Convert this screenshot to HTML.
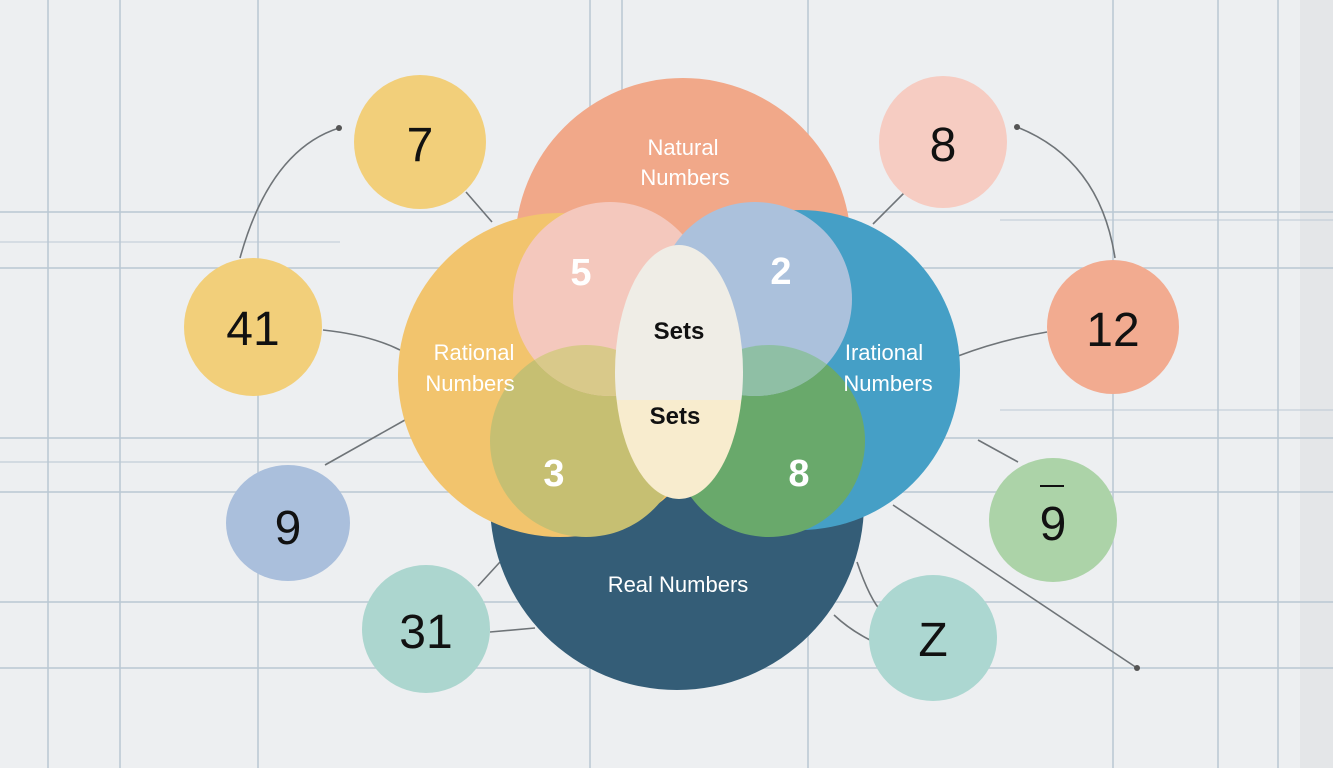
<!DOCTYPE html>
<html><head><meta charset="utf-8"><style>
html,body{margin:0;padding:0;background:#eef0f2;}
svg{display:block;}
text{font-family:"Liberation Sans",sans-serif;}
</style></head><body>
<svg width="1333" height="768" viewBox="0 0 1333 768" xmlns="http://www.w3.org/2000/svg">
<defs>
<clipPath id="co"><circle cx="586" cy="441" r="96"/></clipPath>
<clipPath id="cg"><circle cx="769" cy="441" r="96"/></clipPath>
<clipPath id="ce"><ellipse cx="679" cy="372" rx="64" ry="127"/></clipPath>
</defs>
<rect width="1333" height="768" fill="#edeff1"/>
<rect x="1300" y="0" width="33" height="768" fill="#e4e6e8"/>
<g stroke="#b9c7d3" stroke-width="1.5" fill="none">
<line x1="48" y1="0" x2="48" y2="768"/><line x1="120" y1="0" x2="120" y2="768"/>
<line x1="258" y1="0" x2="258" y2="768"/><line x1="590" y1="0" x2="590" y2="768"/>
<line x1="622" y1="0" x2="622" y2="90"/><line x1="808" y1="0" x2="808" y2="768"/>
<line x1="1113" y1="0" x2="1113" y2="768"/><line x1="1218" y1="0" x2="1218" y2="768"/><line x1="1278" y1="0" x2="1278" y2="768"/>
<line x1="0" y1="212" x2="1333" y2="212"/><line x1="0" y1="242" x2="340" y2="242" opacity=".6"/>
<line x1="0" y1="268" x2="1333" y2="268"/><line x1="0" y1="438" x2="1333" y2="438"/>
<line x1="0" y1="462" x2="500" y2="462" opacity=".7"/><line x1="0" y1="492" x2="1333" y2="492"/>
<line x1="0" y1="602" x2="1333" y2="602"/><line x1="0" y1="668" x2="1333" y2="668"/>
<line x1="1000" y1="220" x2="1333" y2="220" opacity=".6"/><line x1="1000" y1="410" x2="1333" y2="410" opacity=".6"/>
</g>
<g stroke="#6f7478" stroke-width="1.6" fill="none">
<path d="M339 128 Q270 150 240 258"/>
<path d="M1017 127 Q1100 160 1115 258"/>
<path d="M466 192 L492 222"/>
<path d="M323 330 Q370 335 400 350"/>
<path d="M325 465 L405 420"/>
<path d="M873 224 L905 192"/>
<path d="M958 356 Q1000 340 1047 332"/>
<path d="M978 440 L1018 462"/>
<path d="M893 505 L1137 668"/>
<path d="M857 562 Q870 600 882 612"/>
<path d="M834 615 Q850 630 870 640"/>
<path d="M478 586 L500 562"/><path d="M490 632 L535 628"/>
</g>
<circle cx="339" cy="128" r="3" fill="#555"/>
<circle cx="1017" cy="127" r="3" fill="#555"/>
<circle cx="1137" cy="668" r="3" fill="#555"/>

<ellipse cx="420" cy="142" rx="66" ry="67" fill="#f2cf7a"/>
<ellipse cx="253" cy="327" rx="69" ry="69" fill="#f2cf7a"/>
<ellipse cx="288" cy="523" rx="62" ry="58" fill="#aabfdc"/>
<ellipse cx="426" cy="629" rx="64" ry="64" fill="#acd6cf"/>
<ellipse cx="943" cy="142" rx="64" ry="66" fill="#f6ccc2"/>
<ellipse cx="1113" cy="327" rx="66" ry="67" fill="#f2ab90"/>
<ellipse cx="1053" cy="520" rx="64" ry="62" fill="#acd3a8"/>
<ellipse cx="933" cy="638" rx="64" ry="63" fill="#acd7d1"/>

<circle cx="677" cy="503" r="187" fill="#345d77"/>
<circle cx="683" cy="246" r="168" fill="#f1a889"/>
<circle cx="560" cy="375" r="162" fill="#f2c46d"/>
<circle cx="800" cy="370" r="160" fill="#459fc6"/>
<circle cx="586" cy="441" r="96" fill="#c6bf72"/>
<circle cx="769" cy="441" r="96" fill="#69a96b"/>
<circle cx="610" cy="299" r="97" fill="#f4c8bd"/>
<circle cx="755" cy="299" r="97" fill="#abc1dc"/>
<g clip-path="url(#co)"><circle cx="610" cy="299" r="97" fill="#d9c98a"/></g>
<g clip-path="url(#cg)"><circle cx="755" cy="299" r="97" fill="#8fbfa5"/></g>
<g clip-path="url(#ce)">
<rect x="600" y="240" width="160" height="160" fill="#efede6"/>
<rect x="600" y="400" width="160" height="110" fill="#f8ecce"/>
</g>

<g fill="#fff" font-size="22" text-anchor="middle">
<text x="683" y="155">Natural</text><text x="685" y="185">Numbers</text>
<text x="474" y="360">Rational</text><text x="470" y="391">Numbers</text>
<text x="884" y="360">Irational</text><text x="888" y="391">Numbers</text>
<text x="678" y="592">Real Numbers</text>
</g>
<g fill="#fff" font-size="38" font-weight="bold" text-anchor="middle">
<text x="581" y="285">5</text><text x="781" y="284">2</text>
<text x="554" y="486">3</text><text x="799" y="486">8</text>
</g>
<g fill="#111" font-size="24" font-weight="bold" text-anchor="middle">
<text x="679" y="339">Sets</text><text x="675" y="424">Sets</text>
</g>
<g fill="#111" font-size="48" text-anchor="middle">
<text x="420" y="161">7</text><text x="253" y="345">41</text>
<text x="288" y="544">9</text><text x="426" y="648">31</text>
<text x="943" y="161">8</text><text x="1113" y="346">12</text>
<text x="1053" y="540">9</text><text x="933" y="656">Z</text>
</g>
<line x1="1040" y1="486" x2="1064" y2="486" stroke="#111" stroke-width="2"/>
</svg>
</body></html>
